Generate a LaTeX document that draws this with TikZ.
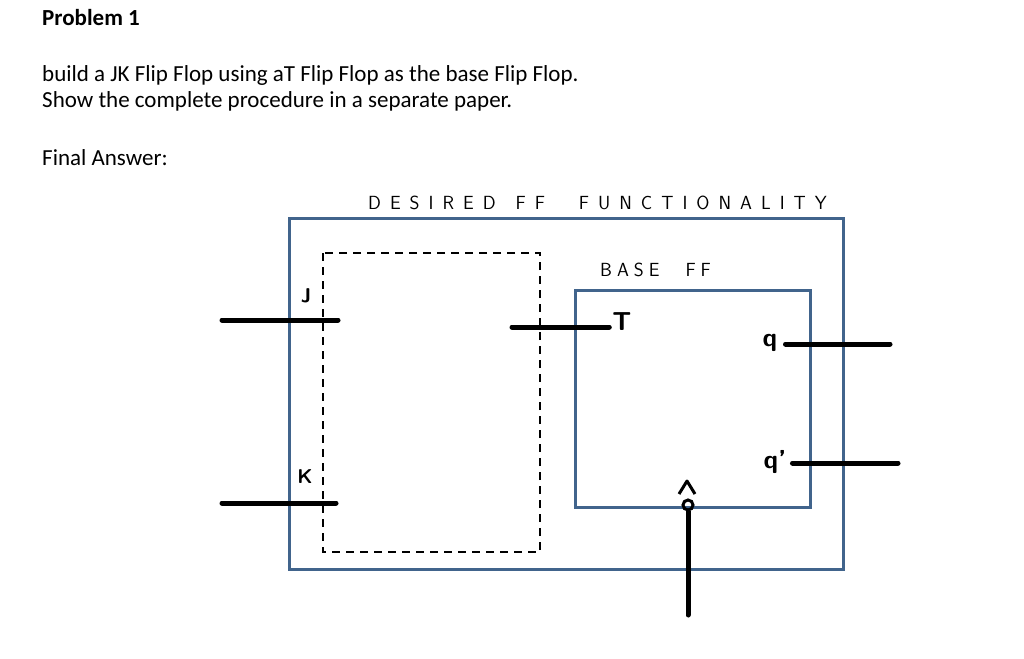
\documentclass[tikz,border=0pt]{standalone}
\usepackage{fontspec}
\setmainfont{Carlito}
\usetikzlibrary{positioning}
\definecolor{boxblue}{HTML}{41648C}
\newcommand{\gp}{\hspace{9pt}}
\tikzset{
  box/.style={draw=boxblue,line width=3pt},
  wire/.style={line width=5pt,line cap=round},
  hand/.style={font=\fontsize{19}{19}\selectfont\sffamily,inner sep=0pt},
  lbl/.style={font=\fontsize{26}{26}\selectfont\bfseries\sffamily,inner sep=0pt},
  txt/.style={anchor=west,inner sep=0pt,font=\fontsize{23}{23}\selectfont}
}
\begin{document}
\begin{tikzpicture}[x=1pt,y=-1pt]
  \useasboundingbox (0,0) rectangle (1024,658);
  \node[txt,font=\fontsize{23}{23}\selectfont\bfseries] (title) at (42,18) {Problem 1};
  \node[txt] (line1) at (42,75) {build a JK Flip Flop using aT Flip Flop as the base Flip Flop.};
  \node[txt] (line2) at (42,101) {Show the complete procedure in a separate paper.};
  \node[txt] (final) at (42,158) {Final Answer:};

  \draw[box] (289,218) rectangle (843,569);
  \draw[line width=1.2pt,dash pattern=on 8pt off 6pt] (323,253) rectangle (540,552);
  \draw[box] (575,290) rectangle (810,507);

  \node[hand,anchor=west] (desired) at (368,203) {D\gp E\gp S\gp I\gp R\gp E\gp D\hspace{20pt}F\gp F\hspace{34pt}F\gp U\gp N\gp C\gp T\gp I\gp O\gp N\gp A\gp L\gp I\gp T\gp Y};
  \node[hand,anchor=west] (base) at (600,270) {B\hspace{5pt}A\hspace{5pt}S\hspace{5pt}E\hspace{26pt}F\hspace{5pt}F};

  \node[lbl,font=\fontsize{20}{20}\selectfont\bfseries\sffamily] (J) at (306,296) {J};
  \node[lbl,font=\fontsize{20}{20}\selectfont\bfseries\sffamily] (K) at (305,477) {K};
  \node[lbl] (T) at (622,322) {T};
  \node[lbl] (q) at (770,343) {q};
  \node[lbl] (qp) at (775,462) {q'};

  \coordinate (jin) at (222,320);  \coordinate (jend) at (338,320);
  \coordinate (kin) at (222,503);  \coordinate (kend) at (336,503);
  \coordinate (tin) at (512,327);
  \coordinate (qout) at (890,344); \coordinate (qpout) at (898,463);
  \coordinate (clk) at (688,615);

  \draw[wire] (tin) -- ([xshift=-3pt]tin -| T.west);
  \draw[wire] (jin) -- (jend);
  \draw[wire] (kin) -- (kend);
  \draw[wire] ([xshift=8pt]q.east |- qout) -- (qout);
  \draw[wire] ([xshift=6pt]qp.east |- qpout) -- (qpout);

  \node[draw,circle,line width=3pt,minimum size=10pt,inner sep=0pt] (bubble) at (688,505) {};
  \draw[line width=3pt,line join=round] (679,494) -- (687,481) -- (695,494);
  \draw[wire] (bubble.south) -- (clk);
\end{tikzpicture}
\end{document}
